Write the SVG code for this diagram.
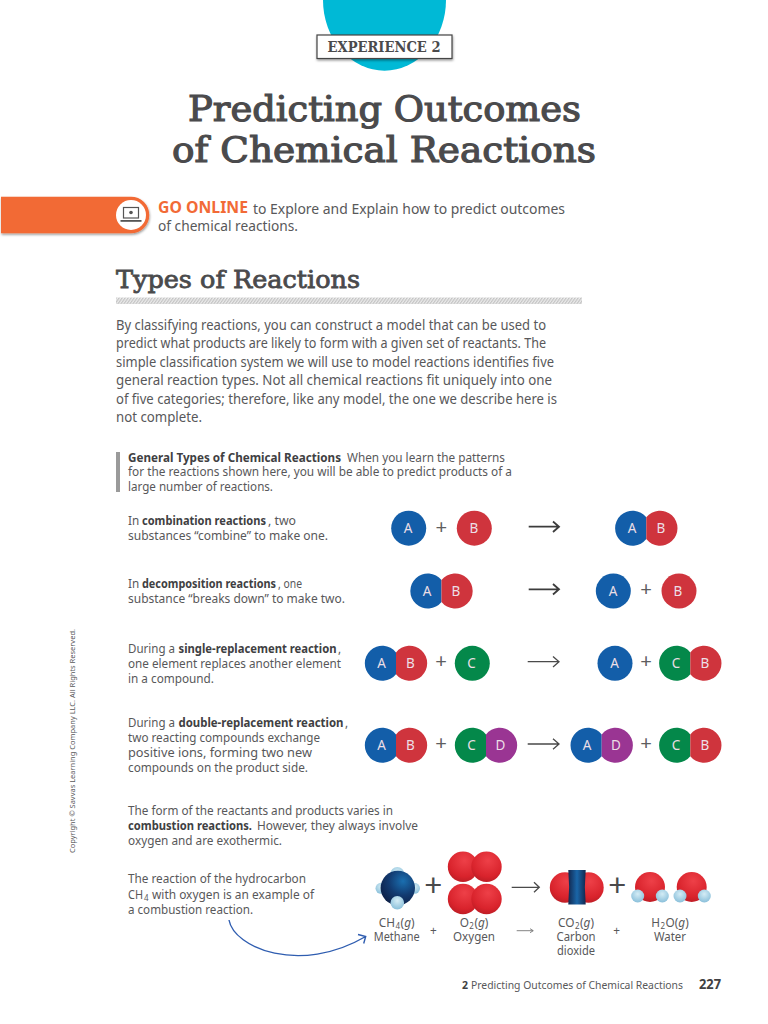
<svg xmlns="http://www.w3.org/2000/svg" width="768" height="1024" viewBox="0 0 768 1024">
<style>
.b{font-family:"Noto Sans","Open Sans",Lato,sans-serif;fill:#58585a}
.p{font-size:13.6px}
.s{font-size:11.7px}
.k{font-weight:700;fill:#404042}
.t{font-family:"DejaVu Serif","Liberation Serif",serif;fill:#4a4a4c;stroke:#4a4a4c}
.l{font-family:"Noto Sans",Lato,sans-serif;font-size:13.5px;fill:#ecdfe6;text-anchor:middle}
.pl{font-family:Lato,"Noto Sans",sans-serif;font-size:20px;fill:#5e5e60;text-anchor:middle}
.big{font-size:31px;fill:#4a4a4c}
.A{fill:#135ea9}.R{fill:#cf343d}.G{fill:#04884a}.D{fill:#9a3593}
.c{font-size:11.8px;text-anchor:middle}
.sub{font-size:8px}
.ar{fill:none;stroke:#4a4a4a;stroke-width:1.3}
.ar2{fill:none;stroke:#3c3c3c;stroke-width:1.8}
</style>
<defs>
<pattern id="hatch" width="3" height="6.500" patternUnits="userSpaceOnUse" patternTransform="skewX(-35)"><rect width="3" height="6.500" fill="#ececec"/><rect width="1.500" height="6.500" fill="#c4c4c4"/></pattern>
<radialGradient id="red" cx="0.55" cy="0.3" r="0.75"><stop offset="0" stop-color="#ee4048"/><stop offset="0.7" stop-color="#d9232c"/><stop offset="1" stop-color="#b81c24"/></radialGradient>
<radialGradient id="navy" cx="0.65" cy="0.3" r="0.75"><stop offset="0" stop-color="#1a6fb0"/><stop offset="0.55" stop-color="#123a70"/><stop offset="1" stop-color="#0e2148"/></radialGradient>
<radialGradient id="hyd" cx="0.5" cy="0.35" r="0.7"><stop offset="0" stop-color="#d4ecf5"/><stop offset="1" stop-color="#84bcd8"/></radialGradient>
<linearGradient id="co" x1="0" x2="1" y1="0" y2="0"><stop offset="0" stop-color="#12284f"/><stop offset="0.5" stop-color="#1a66a8"/><stop offset="1" stop-color="#12284f"/></linearGradient>
<filter id="sh" x="-5%" y="-20%" width="110%" height="150%"><feDropShadow dx="0.500" dy="1.500" stdDeviation="1.200" flood-color="#000" flood-opacity="0.400"/></filter>
<path id="pL" d="M0 -10.900 A17.500 17.500 0 1 0 0 10.900 Z"/>
<path id="pR" d="M0 -10.900 A17.500 17.500 0 1 1 0 10.900 Z"/>
</defs>
<rect width="768" height="1024" fill="#fff"/>

<g id="header">
<path d="M323 0 A61.500 70.700 0 0 0 446 0 Z" fill="#00b9d6"/>
<rect x="317" y="35" width="135" height="23.500" fill="#fff" stroke="#444" stroke-width="1.200" filter="url(#sh)"/>
<text x="327.500" y="51.700" class="t" style="stroke:none" font-weight="700" font-size="14.500" textLength="113" lengthAdjust="spacingAndGlyphs">EXPERIENCE 2</text>
<text x="188" y="121" class="t" stroke-width="1.200" font-size="36" textLength="393" lengthAdjust="spacingAndGlyphs">Predicting Outcomes</text>
<text x="172" y="162" class="t" stroke-width="1.200" font-size="36" textLength="424" lengthAdjust="spacingAndGlyphs">of Chemical Reactions</text>
</g>

<g id="go-online">
<path d="M1 196.700 H131 A18.300 18.300 0 0 1 131 233.300 H1 Z" fill="#f26a36" filter="url(#sh)"/>
<circle cx="131" cy="215" r="15" fill="#fff"/>
<rect x="123.500" y="207.500" width="15" height="10.500" fill="none" stroke="#555" stroke-width="1.200"/>
<rect x="120.500" y="220" width="21" height="1.800" fill="#555"/>
<circle cx="131" cy="212.500" r="1.800" fill="#555"/>
<text x="158" y="213" class="b" font-size="15.500" font-weight="700" style="fill:#f26a36" textLength="90" lengthAdjust="spacingAndGlyphs">GO ONLINE</text>
<text x="253" y="214" class="b p" textLength="312" lengthAdjust="spacingAndGlyphs">to Explore and Explain how to predict outcomes</text>
<text x="158" y="231" class="b p" textLength="140" lengthAdjust="spacingAndGlyphs">of chemical reactions.</text>
</g>

<g id="section-head">
<text x="116" y="288" class="t" stroke-width="0.800" font-size="24.500" textLength="244" lengthAdjust="spacingAndGlyphs">Types of Reactions</text>
<rect x="116" y="297.500" width="466" height="6.500" fill="url(#hatch)"/>
</g>

<g id="intro">
<text class="b p" x="116" y="330" textLength="430" lengthAdjust="spacingAndGlyphs">By classifying reactions, you can construct a model that can be used to</text>
<text class="b p" x="116" y="348" textLength="430" lengthAdjust="spacingAndGlyphs">predict what products are likely to form with a given set of reactants. The</text>
<text class="b p" x="116" y="367" textLength="438" lengthAdjust="spacingAndGlyphs">simple classification system we will use to model reactions identifies five</text>
<text class="b p" x="116" y="385" textLength="436" lengthAdjust="spacingAndGlyphs">general reaction types. Not all chemical reactions fit uniquely into one</text>
<text class="b p" x="116" y="404" textLength="441" lengthAdjust="spacingAndGlyphs">of five categories; therefore, like any model, the one we describe here is</text>
<text class="b p" x="116" y="422" textLength="86" lengthAdjust="spacingAndGlyphs">not complete.</text>
</g>

<g id="general-types">
<rect x="116" y="452" width="4" height="40" fill="#9a9a9a"/>
<text class="b s k" x="128" y="461.500" textLength="213" lengthAdjust="spacingAndGlyphs">General Types of Chemical Reactions</text>
<text class="b s" x="347" y="461.500" textLength="158" lengthAdjust="spacingAndGlyphs">When you learn the patterns</text>
<text class="b s" x="128" y="476" textLength="384" lengthAdjust="spacingAndGlyphs">for the reactions shown here, you will be able to predict products of a</text>
<text class="b s" x="128" y="491" textLength="145" lengthAdjust="spacingAndGlyphs">large number of reactions.</text>
</g>

<g id="combination-text">
<text class="b s" x="128" y="524.500">In</text>
<text class="b s k" x="142" y="524.500" textLength="124" lengthAdjust="spacingAndGlyphs">combination reactions</text>
<text class="b s" x="268" y="524.500" textLength="28" lengthAdjust="spacingAndGlyphs">, two</text>
<text class="b s" x="128" y="539.500" textLength="200" lengthAdjust="spacingAndGlyphs">substances “combine” to make one.</text>
</g>
<g id="decomposition-text">
<text class="b s" x="128" y="587.500">In</text>
<text class="b s k" x="142" y="587.500" textLength="134" lengthAdjust="spacingAndGlyphs">decomposition reactions</text>
<text class="b s" x="278" y="587.500" textLength="24" lengthAdjust="spacingAndGlyphs">, one</text>
<text class="b s" x="128" y="602.500" textLength="217" lengthAdjust="spacingAndGlyphs">substance “breaks down” to make two.</text>
</g>
<g id="single-text">
<text class="b s" x="128" y="653" textLength="47" lengthAdjust="spacingAndGlyphs">During a</text>
<text class="b s k" x="178.500" y="653" textLength="158" lengthAdjust="spacingAndGlyphs">single-replacement reaction</text>
<text class="b s" x="338" y="653">,</text>
<text class="b s" x="128" y="668" textLength="213" lengthAdjust="spacingAndGlyphs">one element replaces another element</text>
<text class="b s" x="128" y="683" textLength="86" lengthAdjust="spacingAndGlyphs">in a compound.</text>
</g>
<g id="double-text">
<text class="b s" x="128" y="727" textLength="47" lengthAdjust="spacingAndGlyphs">During a</text>
<text class="b s k" x="178.500" y="727" textLength="165" lengthAdjust="spacingAndGlyphs">double-replacement reaction</text>
<text class="b s" x="345" y="727">,</text>
<text class="b s" x="128" y="742" textLength="192" lengthAdjust="spacingAndGlyphs">two reacting compounds exchange</text>
<text class="b s" x="128" y="757" textLength="184" lengthAdjust="spacingAndGlyphs">positive ions, forming two new</text>
<text class="b s" x="128" y="772" textLength="180" lengthAdjust="spacingAndGlyphs">compounds on the product side.</text>
</g>
<g id="combustion-text">
<text class="b s" x="128" y="815" textLength="265" lengthAdjust="spacingAndGlyphs">The form of the reactants and products varies in</text>
<text class="b s k" x="128" y="830" textLength="124" lengthAdjust="spacingAndGlyphs">combustion reactions.</text>
<text class="b s" x="257" y="830" textLength="161" lengthAdjust="spacingAndGlyphs">However, they always involve</text>
<text class="b s" x="128" y="845" textLength="154" lengthAdjust="spacingAndGlyphs">oxygen and are exothermic.</text>
<text class="b s" x="128" y="883" textLength="178" lengthAdjust="spacingAndGlyphs">The reaction of the hydrocarbon</text>
<text class="b s" x="128" y="899" textLength="15" lengthAdjust="spacingAndGlyphs">CH</text>
<text class="b sub" x="144" y="901">4</text>
<text class="b s" x="152" y="899" textLength="162" lengthAdjust="spacingAndGlyphs">with oxygen is an example of</text>
<text class="b s" x="128" y="914" textLength="125" lengthAdjust="spacingAndGlyphs">a combustion reaction.</text>
</g>

<g id="row1">
<circle class="A" cx="408.700" cy="528.200" r="17.500"/><text class="l" x="408" y="533">A</text>
<text class="pl" x="441.300" y="533.500">+</text>
<circle class="R" cx="474.300" cy="528.200" r="17.500"/><text class="l" x="474" y="533">B</text>
<use href="#pL" class="A" x="646.300" y="528.200"/><use href="#pR" class="R" x="646.300" y="528.200"/>
<text class="l" x="632" y="533">A</text><text class="l" x="661" y="533">B</text>
</g>
<g id="row2">
<use href="#pL" class="A" x="441.500" y="591"/><use href="#pR" class="R" x="441.500" y="591"/>
<text class="l" x="427" y="596">A</text><text class="l" x="456" y="596">B</text>
<circle class="A" cx="613.300" cy="591" r="17.500"/><text class="l" x="613" y="596">A</text>
<text class="pl" x="646" y="596">+</text>
<circle class="R" cx="679" cy="591" r="17.500"/><text class="l" x="678" y="596">B</text>
</g>
<g id="row3">
<use href="#pL" class="A" x="396" y="663.300"/><use href="#pR" class="R" x="396" y="663.300"/>
<text class="l" x="381.500" y="668">A</text><text class="l" x="410.500" y="668">B</text>
<text class="pl" x="441" y="668">+</text>
<circle class="G" cx="472.300" cy="663.300" r="17.500"/><text class="l" x="471.500" y="668">C</text>
<circle class="A" cx="615" cy="663.300" r="17.500"/><text class="l" x="614.500" y="668">A</text>
<text class="pl" x="646" y="668">+</text>
<use href="#pL" class="G" x="690.300" y="663.300"/><use href="#pR" class="R" x="690.300" y="663.300"/>
<text class="l" x="676" y="668">C</text><text class="l" x="705" y="668">B</text>
</g>
<g id="row4">
<use href="#pL" class="A" x="396" y="745.300"/><use href="#pR" class="R" x="396" y="745.300"/>
<text class="l" x="381.500" y="750">A</text><text class="l" x="410.500" y="750">B</text>
<text class="pl" x="441" y="750">+</text>
<use href="#pL" class="G" x="486" y="745.300"/><use href="#pR" class="D" x="486" y="745.300"/>
<text class="l" x="471.500" y="750">C</text><text class="l" x="500.500" y="750">D</text>
<use href="#pL" class="A" x="601.700" y="745.300"/><use href="#pR" class="D" x="601.700" y="745.300"/>
<text class="l" x="587" y="750">A</text><text class="l" x="616" y="750">D</text>
<text class="pl" x="646" y="750">+</text>
<use href="#pL" class="G" x="690.300" y="745.300"/><use href="#pR" class="R" x="690.300" y="745.300"/>
<text class="l" x="676" y="750">C</text><text class="l" x="705" y="750">B</text>
</g>

<g id="connectors">
<path class="ar2" d="M528.700 526.700 H558.500 M553 521.500 L559 526.700 L553 532"/>
<path class="ar2" d="M528.700 589.300 H558.500 M553 584 L559 589.300 L553 594.500"/>
<path class="ar" d="M527.700 661.700 H558.500 M553 656.500 L559 661.700 L553 667"/>
<path class="ar" d="M527.700 744 H558.500 M553 738.800 L559 744 L553 749.200"/>
<path class="ar" d="M511.700 887.300 H539 M534 882.300 L539.300 887.300 L534 892.300"/>
<path d="M516.700 930.700 H533 M530 928.700 L533.300 930.700 L530 932.700" fill="none" stroke="#777" stroke-width="0.900"/>
<path d="M229 920 C234 948 300 975 365.700 936.500 M358 934.500 L365.700 936.500 L363.700 943.500" fill="none" stroke="#2f5db0" stroke-width="1.400"/>
</g>

<g id="methane">
<circle cx="397.300" cy="874" r="7" fill="url(#hyd)"/>
<circle cx="381" cy="888.300" r="5.500" fill="url(#hyd)"/><circle cx="414.500" cy="888.300" r="5.500" fill="url(#hyd)"/>
<circle cx="397.800" cy="888" r="17.200" fill="url(#navy)"/>
<circle cx="397.300" cy="902.700" r="6.800" fill="url(#hyd)"/>
</g>
<text class="pl big" x="433.300" y="895.500">+</text>
<g id="oxygen">
<circle cx="463" cy="866.700" r="15.200" fill="url(#red)"/><circle cx="486.500" cy="866.700" r="15.200" fill="url(#red)"/>
<circle cx="463" cy="899" r="15.200" fill="url(#red)"/><circle cx="486.500" cy="899" r="15.200" fill="url(#red)"/>
</g>
<g id="co2">
<circle cx="565" cy="887.500" r="15.200" fill="url(#red)"/><circle cx="588.500" cy="887.500" r="15.200" fill="url(#red)"/>
<path d="M568.300 870 H585.700 Q584 887.500 585.700 904.500 H568.300 Q570 887.500 568.300 870 Z" fill="url(#co)"/>
</g>
<text class="pl big" x="617.300" y="895.500">+</text>
<g id="water1">
<circle cx="650" cy="887" r="15" fill="url(#red)"/>
<circle cx="637.700" cy="896" r="6.500" fill="url(#hyd)"/><circle cx="662.300" cy="896" r="6.500" fill="url(#hyd)"/>
</g>
<g id="water2">
<circle cx="691.700" cy="887" r="15" fill="url(#red)"/>
<circle cx="680" cy="896" r="6.500" fill="url(#hyd)"/><circle cx="704.300" cy="896" r="6.500" fill="url(#hyd)"/>
</g>

<g id="captions">
<text class="b c" x="396.700" y="927">CH<tspan class="sub" dx="0.500" dy="2">4</tspan><tspan dx="0.500" dy="-2">(<tspan font-style="italic">g</tspan>)</tspan></text>
<text class="b c" x="396.700" y="941" textLength="46" lengthAdjust="spacingAndGlyphs">Methane</text>
<text class="b c" x="433.300" y="934.500">+</text>
<text class="b c" x="474" y="927">O<tspan class="sub" dx="0.500" dy="2">2</tspan><tspan dx="0.500" dy="-2">(<tspan font-style="italic">g</tspan>)</tspan></text>
<text class="b c" x="474" y="941" textLength="42" lengthAdjust="spacingAndGlyphs">Oxygen</text>
<text class="b c" x="576" y="927">CO<tspan class="sub" dx="0.500" dy="2">2</tspan><tspan dx="0.500" dy="-2">(<tspan font-style="italic">g</tspan>)</tspan></text>
<text class="b c" x="576" y="941" textLength="39" lengthAdjust="spacingAndGlyphs">Carbon</text>
<text class="b c" x="576" y="955" textLength="38" lengthAdjust="spacingAndGlyphs">dioxide</text>
<text class="b c" x="616.700" y="934.500">+</text>
<text class="b c" x="670" y="927">H<tspan class="sub" dx="0.500" dy="2">2</tspan><tspan dx="0.500" dy="-2">O(<tspan font-style="italic">g</tspan>)</tspan></text>
<text class="b c" x="670" y="941" textLength="32" lengthAdjust="spacingAndGlyphs">Water</text>
</g>

<g id="footer">
<text class="b k" font-size="10.500" x="462" y="989">2</text>
<text class="b" font-size="10.500" x="471" y="989" textLength="212" lengthAdjust="spacingAndGlyphs">Predicting Outcomes of Chemical Reactions</text>
<text class="b k" font-size="13.500" x="699" y="989" textLength="22" lengthAdjust="spacingAndGlyphs">227</text>
<text class="b" font-size="7.500" transform="translate(75 853) rotate(-90)" textLength="224" lengthAdjust="spacingAndGlyphs" x="0" y="0">Copyright © Savvas Learning Company LLC. All Rights Reserved.</text>
</g>
</svg>
